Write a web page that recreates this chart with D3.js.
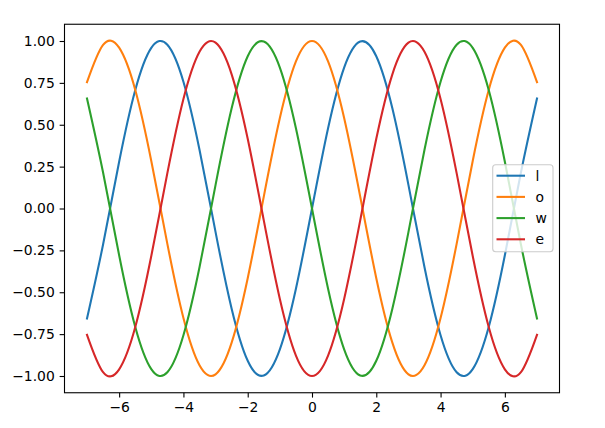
<!DOCTYPE html>
<html>
<head>
<meta charset="utf-8">
<script src="https://cdn.jsdelivr.net/npm/d3@7"></script>
<style>
  body { margin: 0; background: #fff; }
  svg { display: block; font-family: "DejaVu Sans", sans-serif; }
  .tick text { font-size: 13.9px; fill: #000; }
</style>
</head>
<body>
<svg id="chart" width="605" height="428"></svg>
<script>
const xs = [-7, -6.5, -6, -5.5, -5, -4.5, -4, -3.5, -3, -2.5, -2, -1.5, -1, -0.5, 0,
  0.5, 1, 1.5, 2, 2.5, 3, 3.5, 4, 4.5, 5, 5.5, 6, 6.5, 7];
const lValues = [-0.657, -0.215, 0.279, 0.706, 0.959, 0.978, 0.757, 0.351, -0.141, -0.598, -0.909, -0.997, -0.841, -0.479, 0.000,
  0.479, 0.841, 0.997, 0.909, 0.598, 0.141, -0.351, -0.757, -0.978, -0.959, -0.706, -0.279, 0.215, 0.657];
const oValues = [0.754, 0.977, 0.960, 0.709, 0.284, -0.211, -0.654, -0.936, -0.990, -0.801, -0.416, 0.071, 0.540, 0.878, 1.000,
  0.878, 0.540, 0.071, -0.416, -0.801, -0.990, -0.936, -0.654, -0.211, 0.284, 0.709, 0.960, 0.977, 0.754];
const wValues = [0.657, 0.215, -0.279, -0.706, -0.959, -0.978, -0.757, -0.351, 0.141, 0.598, 0.909, 0.997, 0.841, 0.479, 0.000,
  -0.479, -0.841, -0.997, -0.909, -0.598, -0.141, 0.351, 0.757, 0.978, 0.959, 0.706, 0.279, -0.215, -0.657];
const eValues = [-0.754, -0.977, -0.960, -0.709, -0.284, 0.211, 0.654, 0.936, 0.990, 0.801, 0.416, -0.071, -0.540, -0.878, -1.000,
  -0.878, -0.540, -0.071, 0.416, 0.801, 0.990, 0.936, 0.654, 0.211, -0.284, -0.709, -0.960, -0.977, -0.754];
const seriesNames = ['l', 'o', 'w', 'e'];
const seriesColors = ['#1f77b4', '#ff7f0e', '#2ca02c', '#d62728'];
const xTicks = [-6, -4, -2, 0, 2, 4, 6];
const yTicks = [-1, -0.75, -0.5, -0.25, 0, 0.25, 0.5, 0.75, 1];

const series = [lValues, oValues, wValues, eValues].map((vals, i) => ({
  name: seriesNames[i],
  color: seriesColors[i],
  points: xs.map((x, j) => ({ x, y: vals[j] }))
}));

const M = { left: 64.5, right: 559.5, top: 24.25, bottom: 392.75 };
const svg = d3.select('#chart');

const x = d3.scaleLinear().domain([-7.7, 7.7]).range([M.left, M.right]);
const y = d3.scaleLinear().domain([-1.1, 1.1]).range([M.bottom, M.top]);

// lines
const line = d3.line()
  .x(d => x(d.x))
  .y(d => y(d.y))
  .curve(d3.curveNatural);

const plot = svg.append('g').attr('class', 'lines');
plot.selectAll('path')
  .data(series)
  .join('path')
  .attr('fill', 'none')
  .attr('stroke', d => d.color)
  .attr('stroke-width', 2.08)
  .attr('stroke-linecap', 'square')
  .attr('d', d => line(d.points));

// axes
const xAxis = svg.append('g')
  .attr('transform', `translate(0,${M.bottom})`)
  .call(d3.axisBottom(x).tickValues(xTicks).tickFormat(d3.format('d'))
    .tickSizeInner(4.86).tickSizeOuter(0).tickPadding(4.86));
const yAxis = svg.append('g')
  .attr('transform', `translate(${M.left},0)`)
  .call(d3.axisLeft(y).tickValues(yTicks).tickFormat(d3.format('.2f'))
    .tickSizeInner(4.86).tickSizeOuter(0).tickPadding(4.86));
[xAxis, yAxis].forEach(a => {
  a.select('.domain').remove();
  a.selectAll('.tick line').attr('stroke', '#000').attr('stroke-width', 1.1);
  a.attr('font-size', null).attr('font-family', null);
});

// frame
svg.append('rect')
  .attr('x', M.left).attr('y', M.top)
  .attr('width', M.right - M.left).attr('height', M.bottom - M.top)
  .attr('fill', 'none').attr('stroke', '#000').attr('stroke-width', 1.1);

// legend, center right
const lg = { x: 492.7, y: 164.7, w: 60.3, h: 87, row: 21.2 };
const legend = svg.append('g').attr('class', 'legend');
legend.append('rect')
  .attr('x', lg.x).attr('y', lg.y)
  .attr('width', lg.w).attr('height', lg.h)
  .attr('rx', 3).attr('ry', 3)
  .attr('fill', '#fff').attr('fill-opacity', 0.8)
  .attr('stroke', '#cccccc').attr('stroke-width', 1.1);

const items = legend.selectAll('g.item')
  .data(series)
  .join('g')
  .attr('class', 'item')
  .attr('transform', (d, i) => `translate(0,${lg.y + 11 + i * lg.row})`);
items.append('line')
  .attr('x1', 496.5).attr('x2', 525)
  .attr('stroke', d => d.color).attr('stroke-width', 2.08);
items.append('text')
  .attr('x', 535.5)
  .attr('dy', '0.35em')
  .attr('font-size', 13.9)
  .text(d => d.name);
</script>
</body>
</html>
